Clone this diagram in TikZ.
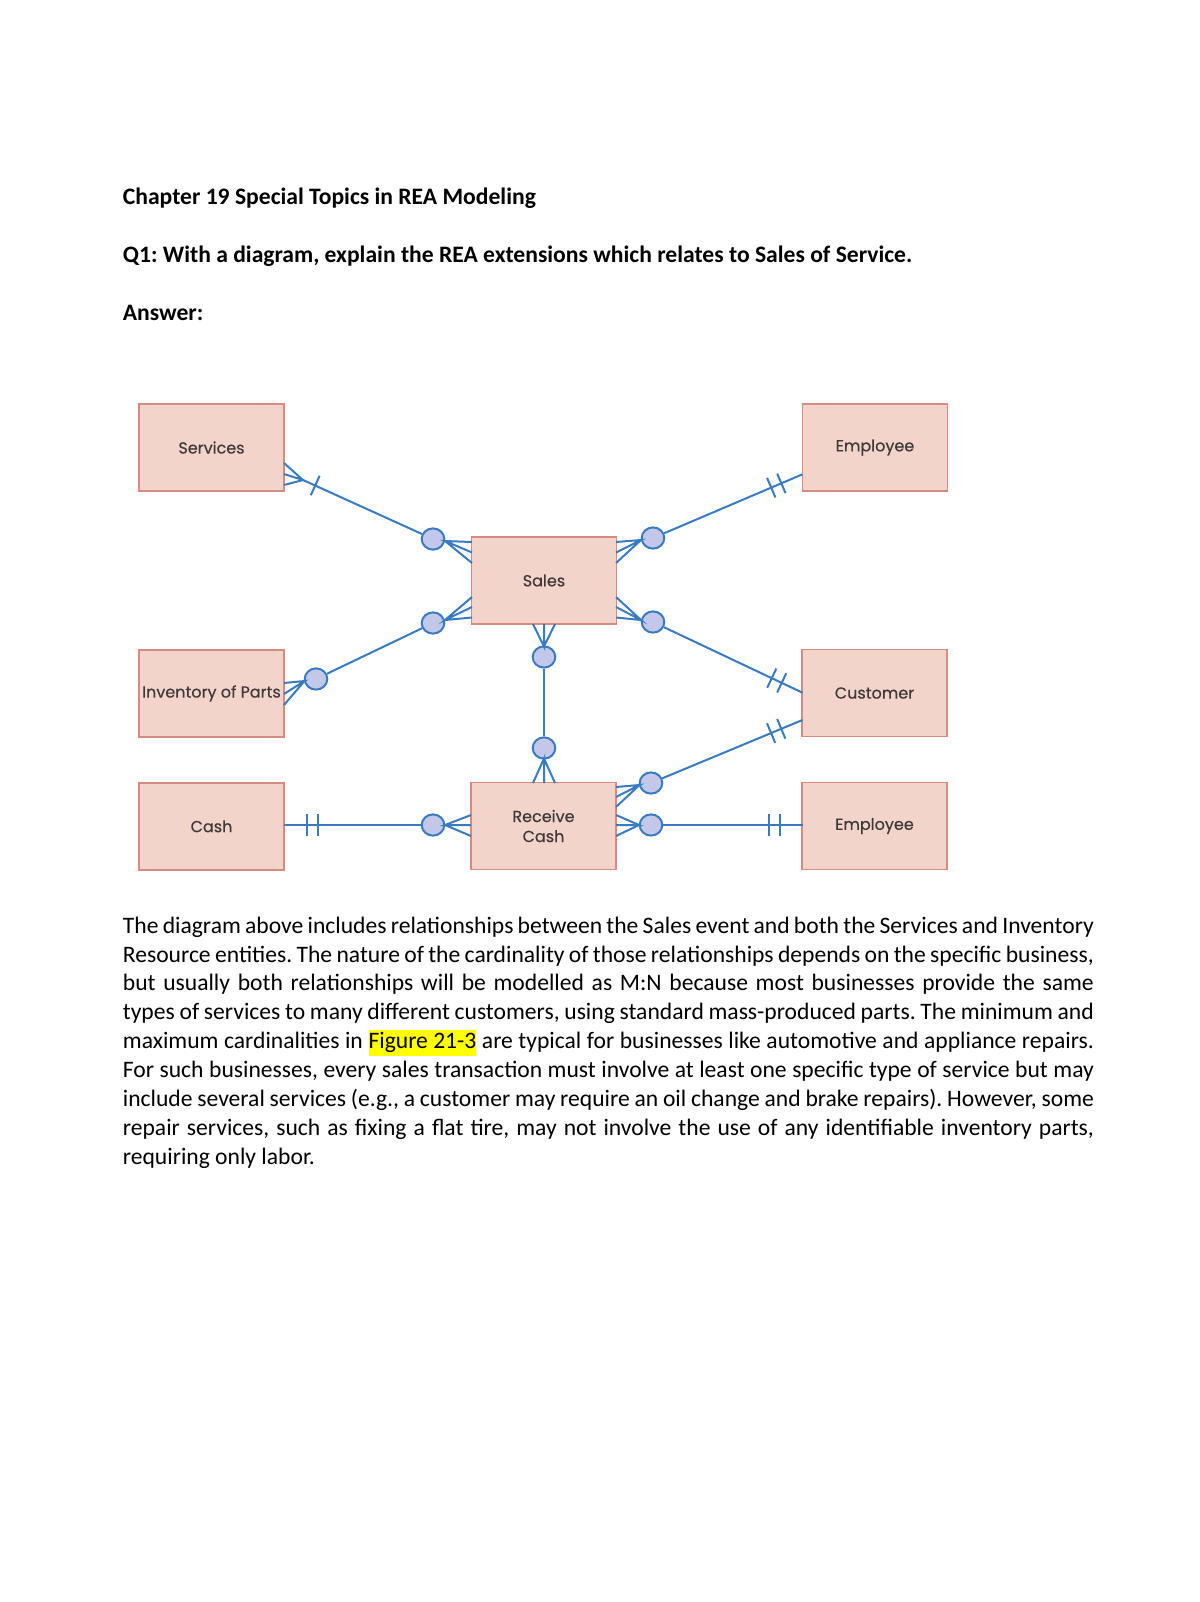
\documentclass[tikz,border=0pt]{standalone}
\usepackage{fontspec}
\setmainfont{Carlito}
\newfontfamily\entfont[FakeBold=0.35]{Poppins}
\usetikzlibrary{shapes.geometric,calc}
\definecolor{lineblue}{HTML}{3A7BC0}
\definecolor{circfill}{HTML}{C3C8EB}
\definecolor{boxfill}{HTML}{F2D4CB}
\definecolor{boxline}{HTML}{D68A80}
\definecolor{enttext}{HTML}{3E3838}
\definecolor{hiyellow}{HTML}{FFFF00}
\newcommand{\hlite}[1]{{\setlength{\fboxsep}{0pt}\colorbox{hiyellow}{\rule[-3.8pt]{0pt}{13.3pt}#1}}}
\newcommand{\tickmark}[3]{\draw[conn] ($(#1)!#3!(#2)!5.3pt!90:(#2)$) -- ($(#1)!#3!(#2)!5.3pt!-90:(#2)$);}
\newcommand{\crowfoot}[4]{\draw[conn] (#2) -- (#1) -- (#3) (#1) -- (#4);}
\frenchspacing
\begin{document}
\begin{tikzpicture}[x=0.5pt,y=-0.5pt,
  ent/.style={draw=boxline, fill=boxfill, line width=0.75pt, minimum width=72.5pt, minimum height=43.5pt, inner sep=0pt, outer sep=0pt, text=enttext, font=\entfont\fontsize{8}{10}\selectfont, align=center},
  card/.style={ellipse, draw=lineblue, fill=circfill, line width=1pt, minimum width=11.3pt, minimum height=10.6pt, inner sep=0pt},
  conn/.style={draw=lineblue, line width=1pt},
  hdr/.style={anchor=base west, inner sep=0pt, font=\bfseries\fontsize{11.8}{14}\selectfont},
  body/.style={anchor=base west, inner sep=0pt, font=\fontsize{11.8}{14}\selectfont}]
\fill[white] (0,0) rectangle (1200,1602);
\useasboundingbox (0,0) rectangle (1200,1602);

% headings
\node[hdr] (title) at (122.5,204) {Chapter 19 Special Topics in REA Modeling};
\node[hdr] (q1) at (122.5,262) {Q1: With a diagram, explain the REA extensions which relates to Sales of Service.};
\node[hdr] (ans) at (122.5,320) {Answer:};

% entities
\node[ent] (services) at (211.5,447.5) {Services};
\node[ent] (emp1) at (875,447.5) {Employee};
\node[ent] (sales) at (544,580.5) {Sales};
\node[ent] (inv) at (211.5,693.5) {Inventory of Parts};
\node[ent] (cust) at (874.5,693) {Customer};
\node[ent] (cash) at (211.5,826.3) {Cash};
\node[ent] (rcash) at (543.5,826) {Receive\\Cash};
\node[ent] (emp2) at (874.5,826) {Employee};

% participation circles
\node[card] (c1) at (433,539) {};
\node[card] (c2) at (433,623) {};
\node[card] (c3) at (316,679) {};
\node[card] (c4) at (653,538) {};
\node[card] (c5) at (653,622) {};
\node[card] (c6) at (544,657) {};
\node[card] (c7) at (544,748) {};
\node[card] (c8) at (433,825) {};
\node[card] (c9) at (651,783) {};
\node[card] (c10) at (651,825) {};

% apex points and edge points
\coordinate (A1) at (303,480);
\coordinate (s1a) at (284,463); \coordinate (s1b) at (284,474); \coordinate (s1c) at (284,485);
\coordinate (a1) at (445,541);
\coordinate (p1a) at (472,542); \coordinate (p1b) at (472,552.5); \coordinate (p1c) at (472,563);
\coordinate (a2) at (445,620);
\coordinate (p2a) at (472,597); \coordinate (p2b) at (472,607); \coordinate (p2c) at (472,617.5);
\coordinate (a3) at (304.5,681);
\coordinate (p3a) at (284,683); \coordinate (p3b) at (284,694); \coordinate (p3c) at (284,705);
\coordinate (a4) at (641,540);
\coordinate (p4a) at (616,542); \coordinate (p4b) at (616,552.5); \coordinate (p4c) at (616,563);
\coordinate (a5) at (641,620);
\coordinate (p5a) at (616,597); \coordinate (p5b) at (616,607); \coordinate (p5c) at (616,617.5);
\coordinate (a6) at (544,646.5);
\coordinate (p6a) at (533,624); \coordinate (p6b) at (544,624); \coordinate (p6c) at (555,624);
\coordinate (a7) at (544,758.5);
\coordinate (p7a) at (533,783); \coordinate (p7b) at (544,783); \coordinate (p7c) at (555,783);
\coordinate (a8) at (445,825);
\coordinate (p8a) at (471,815); \coordinate (p8b) at (471,825); \coordinate (p8c) at (471,836);
\coordinate (a9) at (639.5,785);
\coordinate (p9a) at (616,787); \coordinate (p9b) at (616,797); \coordinate (p9c) at (616,807);
\coordinate (a10) at (639,825);
\coordinate (p10a) at (616,815); \coordinate (p10b) at (616,825); \coordinate (p10c) at (616,836);
\coordinate (e1a) at (802.5,474.3);
\coordinate (cua) at (802.5,692.7);
\coordinate (cub) at (802.5,720);
\coordinate (e2a) at (802.5,825);
\coordinate (csa) at (284,825);

% connectors
\draw[conn] (c1) -- (A1);
\draw[conn] (c3) -- (c2);
\draw[conn] (c4) -- (e1a);
\draw[conn] (c5) -- (cua);
\draw[conn] (c6) -- (c7);
\draw[conn] (c8) -- (csa);
\draw[conn] (c9) -- (cub);
\draw[conn] (c10) -- (e2a);

% crow's feet
\crowfoot{A1}{s1a}{s1b}{s1c}
\crowfoot{a1}{p1a}{p1b}{p1c}
\crowfoot{a2}{p2a}{p2b}{p2c}
\crowfoot{a3}{p3a}{p3b}{p3c}
\crowfoot{a4}{p4a}{p4b}{p4c}
\crowfoot{a5}{p5a}{p5b}{p5c}
\crowfoot{a6}{p6a}{p6b}{p6c}
\crowfoot{a7}{p7a}{p7b}{p7c}
\crowfoot{a8}{p8a}{p8b}{p8c}
\crowfoot{a9}{p9a}{p9b}{p9c}
\crowfoot{a10}{p10a}{p10b}{p10c}

% tick marks (one / mandatory)
\tickmark{A1}{c1}{6.7pt}
\tickmark{e1a}{c4}{11.5pt}
\tickmark{e1a}{c4}{17pt}
\tickmark{cua}{c5}{11.5pt}
\tickmark{cua}{c5}{17pt}
\tickmark{cub}{c9}{11.5pt}
\tickmark{cub}{c9}{17pt}
\tickmark{e2a}{c10}{11.5pt}
\tickmark{e2a}{c10}{17pt}
\tickmark{csa}{c8}{11.5pt}
\tickmark{csa}{c8}{17pt}

% body text
\node[body] (b1) at (122.5,933.2) {\makebox[485.5pt][s]{The diagram above includes relationships between the Sales event and both the Services and Inventory}};
\node[body] (b2) at (122.5,962.1) {\makebox[485.5pt][s]{Resource entities. The nature of the cardinality of those relationships depends on the specific business,}};
\node[body] (b3) at (122.5,990.9) {\makebox[485.5pt][s]{but usually both relationships will be modelled as M:N because most businesses provide the same}};
\node[body] (b4) at (122.5,1019.8) {\makebox[485.5pt][s]{types of services to many different customers, using standard mass-produced parts. The minimum and}};
\node[body] (b5) at (122.5,1048.6) {\makebox[485.5pt][s]{maximum cardinalities in \hlite{Figure 21-3} are typical for businesses like automotive and appliance repairs.}};
\node[body] (b6) at (122.5,1077.5) {\makebox[485.5pt][s]{For such businesses, every sales transaction must involve at least one specific type of service but may}};
\node[body] (b7) at (122.5,1106.3) {\makebox[485.5pt][s]{include several services (e.g., a customer may require an oil change and brake repairs). However, some}};
\node[body] (b8) at (122.5,1135.2) {\makebox[485.5pt][s]{repair services, such as fixing a flat tire, may not involve the use of any identifiable inventory parts,}};
\node[body] (b9) at (122.5,1164) {requiring only labor.};
\end{tikzpicture}
\end{document}
